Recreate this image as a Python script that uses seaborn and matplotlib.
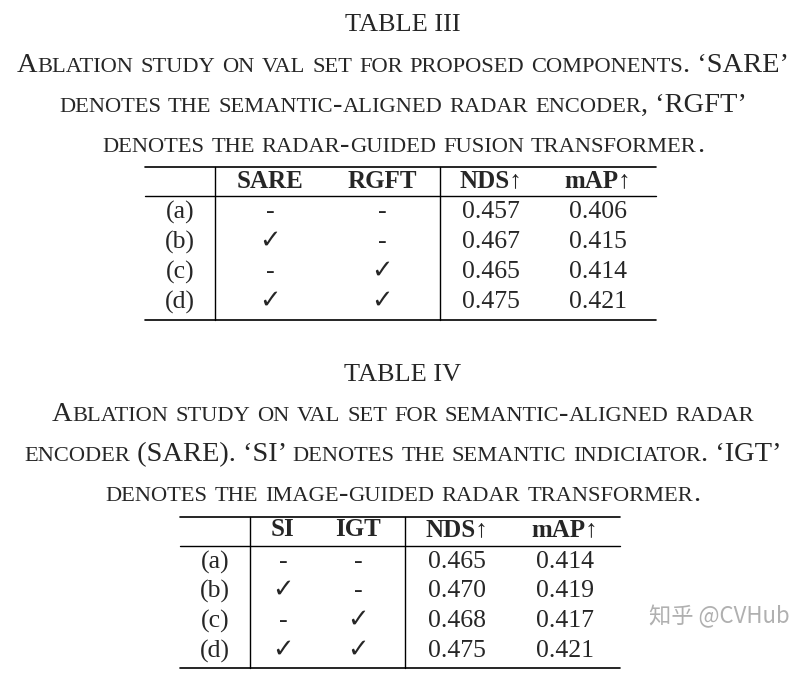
import matplotlib
matplotlib.use('Agg')
import matplotlib.pyplot as plt
import seaborn as sns

sns.set_style('white')
plt.rcParams['font.family'] = ['Liberation Serif', 'DejaVu Sans']

# table III
t3_title = 'TABLE III'
t3_caption = ['Ablation study on val set for proposed components. ‘SARE’',
              'denotes the semantic-aligned radar encoder, ‘RGFT’',
              'denotes the radar-guided fusion transformer.']
t3_cols = ['SARE', 'RGFT', 'NDS↑', 'mAP↑']
t3_rows = ['(a)', '(b)', '(c)', '(d)']
t3_c1 = ['-', '✓', '-', '✓']
t3_c2 = ['-', '-', '✓', '✓']
t3_nds = ['0.457', '0.467', '0.465', '0.475']
t3_map = ['0.406', '0.415', '0.414', '0.421']

# table IV
t4_title = 'TABLE IV'
t4_caption = ['Ablation study on val set for semantic-aligned radar',
              'encoder (SARE). ‘SI’ denotes the semantic indiciator. ‘IGT’',
              'denotes the image-guided radar transformer.']
t4_cols = ['SI', 'IGT', 'NDS↑', 'mAP↑']
t4_rows = ['(a)', '(b)', '(c)', '(d)']
t4_c1 = ['-', '✓', '-', '✓']
t4_c2 = ['-', '-', '✓', '✓']
t4_nds = ['0.465', '0.470', '0.468', '0.475']
t4_map = ['0.414', '0.419', '0.417', '0.421']

fig = plt.figure(figsize=(8.06, 6.77), dpi=100)
ax = fig.add_axes([0, 0, 1, 1])
ax.set_xlim(0, 806)
ax.set_ylim(677, 0)
ax.axis('off')
rend = fig.canvas.get_renderer()


def smallcaps(y, s, big=20.5, small=16.2):
    # split into runs of real capitals / lowered letters
    runs = []
    for ch in s:
        up = not ch.islower()
        if runs and runs[-1][1] == up:
            runs[-1][0] += ch
        else:
            runs.append([ch, up])
    texts = []
    for txt, up in runs:
        t = ax.text(0, y, txt.upper(), fontsize=big if up else small,
                    ha='left', va='baseline')
        texts.append(t)
    widths = [t.get_window_extent(rend).width for t in texts]
    x = 403 - sum(widths) / 2
    for t, w in zip(texts, widths):
        t.set_x(x)
        x += w


def table(top, bottom, sep, x0, x1, vlines, hy, colx, rowy, cols, rows, c1, c2, nds, mp):
    for yy in (top, bottom):
        ax.plot([x0, x1], [yy, yy], color='black', lw=1.2)
    ax.plot([x0, x1], [sep, sep], color='black', lw=1.0)
    for vx in vlines:
        ax.plot([vx, vx], [top, bottom], color='black', lw=1.0)
    for cx, c in zip(colx[1:], cols):
        ax.text(cx, hy, c, fontsize=18, fontweight='bold', ha='center', va='center')
    for i, ry in enumerate(rowy):
        vals = [rows[i], c1[i], c2[i], nds[i], mp[i]]
        for cx, v in zip(colx, vals):
            ax.text(cx, ry, v, fontsize=18.5, ha='center', va='center')


ax.text(403, 31, t3_title, fontsize=19, ha='center', va='baseline')
for y, line in zip([72, 112, 152], t3_caption):
    smallcaps(y, line)
table(167, 320, 196, 145, 656, [215, 440], 181, [180, 270, 382, 491, 598],
      [212, 242, 272, 302], t3_cols, t3_rows, t3_c1, t3_c2, t3_nds, t3_map)

ax.text(403, 381, t4_title, fontsize=19, ha='center', va='baseline')
for y, line in zip([421, 461, 501], t4_caption):
    smallcaps(y, line)
table(517, 668, 546, 180, 620, [250, 405], 530, [215, 283, 358, 457, 565],
      [562, 591, 621, 651], t4_cols, t4_rows, t4_c1, t4_c2, t4_nds, t4_map)

ax.text(719, 617, '知乎 @CVHub', fontsize=16, color='#b0b0b0', ha='center', va='center',
        family=['Noto Sans CJK SC', 'DejaVu Sans'])

fig.savefig('out.png', dpi=100)
